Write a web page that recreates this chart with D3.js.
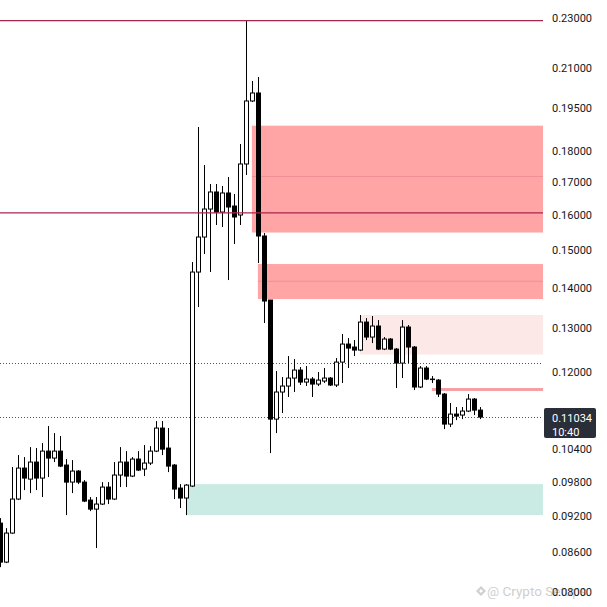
<!DOCTYPE html>
<html>
<head>
<meta charset="utf-8">
<script src="https://cdn.jsdelivr.net/npm/d3@7"></script>
<style>
    html, body { margin: 0; padding: 0; background: #fff; }
    svg { display: block; font-family: Roboto, "Noto Sans", sans-serif; }
</style>
</head>
<body>
<div id="chart"></div>
<script>
// OHLC, one value per candle
const opens = [0.09077, 0.08448, 0.08912, 0.09488, 0.10045, 0.09843, 0.10157, 0.09862, 0.10364, 0.10232,
    0.10364, 0.10101, 0.09789, 0.09990, 0.09789, 0.09470, 0.09314, 0.09401, 0.09700, 0.09488,
    0.09917, 0.10157, 0.09898, 0.10213, 0.10027, 0.10138, 0.10364, 0.10813, 0.10422, 0.10101,
    0.09682, 0.09506, 0.09718, 0.14412, 0.15372, 0.16185, 0.16701, 0.16096, 0.16670, 0.16275,
    0.16008, 0.17585, 0.19748, 0.20041, 0.15401, 0.13688, 0.10993, 0.11555, 0.11683, 0.11856,
    0.12032, 0.11769, 0.11834, 0.11726, 0.11791, 0.11856, 0.11705, 0.12210, 0.12622, 0.12553,
    0.12483, 0.13144, 0.12786, 0.13048, 0.12506, 0.12739, 0.12506, 0.12188, 0.13024, 0.12553,
    0.11662, 0.12077, 0.11834, 0.11812, 0.11512, 0.10893, 0.11095, 0.11075, 0.11157, 0.11406,
    0.11177];
const highs = [0.09161, 0.08994, 0.10064, 0.10289, 0.10251, 0.10441, 0.10422, 0.10518, 0.10853, 0.10714,
    0.10655, 0.10213, 0.10194, 0.10008, 0.09825, 0.09523, 0.09523, 0.09789, 0.09789, 0.10157,
    0.10441, 0.10364, 0.10251, 0.10364, 0.10480, 0.10460, 0.10953, 0.10953, 0.10813, 0.10120,
    0.09753, 0.09753, 0.14680, 0.18824, 0.17553, 0.16949, 0.16949, 0.16886, 0.17168, 0.16640,
    0.18245, 0.22900, 0.20489, 0.20639, 0.15486, 0.13688, 0.12010, 0.11878, 0.12346, 0.12278,
    0.12099, 0.12121, 0.11878, 0.11988, 0.12077, 0.11878, 0.12301, 0.12857, 0.12762, 0.12715,
    0.13315, 0.13241, 0.13290, 0.13192, 0.12786, 0.12762, 0.12529, 0.13192, 0.13072, 0.12576,
    0.12121, 0.12121, 0.11900, 0.11834, 0.11533, 0.11323, 0.11240, 0.11240, 0.11512, 0.11427,
    0.11240];
const lows = [0.08370, 0.08432, 0.08900, 0.09470, 0.09646, 0.09593, 0.09646, 0.09523, 0.09880, 0.10157,
    0.10064, 0.09212, 0.09593, 0.09753, 0.09435, 0.09280, 0.08669, 0.09384, 0.09401, 0.09470,
    0.09700, 0.09700, 0.09880, 0.09990, 0.09898, 0.10101, 0.10345, 0.10289, 0.09971, 0.09488,
    0.09332, 0.09212, 0.09700, 0.13513, 0.14898, 0.14412, 0.15716, 0.15658, 0.14201, 0.15175,
    0.15716, 0.17232, 0.19712, 0.14653, 0.13120, 0.10326, 0.10714, 0.11116, 0.11449, 0.11555,
    0.11705, 0.11683, 0.11449, 0.11683, 0.11748, 0.11683, 0.11662, 0.11748, 0.12077, 0.12346,
    0.12460, 0.12715, 0.12645, 0.12483, 0.12483, 0.12483, 0.11640, 0.11856, 0.12188, 0.11597,
    0.11640, 0.11812, 0.11748, 0.11449, 0.10793, 0.10833, 0.10973, 0.10993, 0.11136, 0.11075,
    0.10993];
const closes = [0.08448, 0.08912, 0.09488, 0.10045, 0.09862, 0.10157, 0.09862, 0.10364, 0.10232, 0.10364,
    0.10082, 0.09789, 0.09990, 0.09789, 0.09453, 0.09314, 0.09401, 0.09700, 0.09488, 0.09917,
    0.10157, 0.09898, 0.10213, 0.10008, 0.10138, 0.10364, 0.10813, 0.10402, 0.10082, 0.09664,
    0.09506, 0.09735, 0.14412, 0.15372, 0.16185, 0.16701, 0.16096, 0.16670, 0.16245, 0.15949,
    0.17585, 0.19748, 0.20041, 0.15401, 0.13663, 0.10993, 0.11555, 0.11683, 0.11856, 0.12032,
    0.11769, 0.11834, 0.11726, 0.11812, 0.11856, 0.11705, 0.12210, 0.12622, 0.12529, 0.12483,
    0.13144, 0.12786, 0.13048, 0.12506, 0.12739, 0.12506, 0.12188, 0.13024, 0.12553, 0.11662,
    0.12077, 0.11834, 0.11823, 0.11512, 0.10893, 0.11095, 0.11054, 0.11157, 0.11406, 0.11177,
    0.11034];

const priceTicks = [0.23, 0.21, 0.195, 0.18, 0.17, 0.16, 0.15, 0.14, 0.13, 0.12, 0.104, 0.098, 0.092, 0.086, 0.08];

// supply / demand boxes: [start candle, top price, bottom price]
const supplyZones = [[41.9, 0.1887, 0.1550], [42.9, 0.14626, 0.13713]];
const weakZone = [59.9, 0.13315, 0.12380];
const demandZone = [31.0, 0.09753, 0.09212];
const levelLine = [71.9, 0.11608];
const hLines = [0.2290, 0.1607];
const dottedLevels = [0.12188];
const lastPrice = 0.11034;
const countdown = "10:40";

const W = 607, H = 607, plotRight = 543;

const candles = opens.map((o, i) => ({i: i, o: o, h: highs[i], l: lows[i], c: closes[i]}));

const svg = d3.select("#chart").append("svg")
    .attr("width", W)
    .attr("height", H);

svg.append("rect").attr("width", W).attr("height", H).attr("fill", "#ffffff");

let x = d3.scaleLinear().domain([0, 80]).range([0.5, 480.5]);
let y = d3.scaleLog().domain([0.08, 0.23]).range([591.7, 18.2]);

// watermark (sits behind everything)
let wm = svg.append("g").attr("fill", "#cfcfcf");
wm.append("path")
    .attr("d", "M481,586 l5,5 l-5,5 l-5,-5 Z M481,589 l2,2 l-2,2 l-2,-2 Z")
    .attr("fill-rule", "evenodd");
wm.append("text")
    .attr("x", 487).attr("y", 596)
    .attr("font-size", 13.5)
    .text("@ Crypto Setups");

// zones
let zones = svg.append("g");

supplyZones.forEach(z => {
    zones.append("rect")
        .attr("x", x(z[0])).attr("y", y(z[1]))
        .attr("width", plotRight - x(z[0]))
        .attr("height", y(z[2]) - y(z[1]))
        .attr("fill", "#ffa5a5");
    zones.append("line")
        .attr("x1", x(z[0])).attr("x2", plotRight)
        .attr("y1", y((z[1] + z[2]) / 2)).attr("y2", y((z[1] + z[2]) / 2))
        .attr("stroke", "#f08f96").attr("stroke-width", 1);
});

zones.append("rect")
    .attr("x", x(weakZone[0])).attr("y", y(weakZone[1]))
    .attr("width", plotRight - x(weakZone[0]))
    .attr("height", y(weakZone[2]) - y(weakZone[1]))
    .attr("fill", "#fde8e8");

zones.append("rect")
    .attr("x", x(demandZone[0])).attr("y", y(demandZone[1]))
    .attr("width", plotRight - x(demandZone[0]))
    .attr("height", y(demandZone[2]) - y(demandZone[1]))
    .attr("fill", "#c9ebe3");

zones.append("line")
    .attr("x1", x(levelLine[0])).attr("x2", plotRight)
    .attr("y1", y(levelLine[1])).attr("y2", y(levelLine[1]))
    .attr("stroke", "#f4a0a4").attr("stroke-width", 3);

// dotted lines
dottedLevels.concat([lastPrice]).forEach(p => {
    svg.append("line")
        .attr("x1", 0).attr("x2", plotRight)
        .attr("y1", Math.round(y(p)) + 0.5).attr("y2", Math.round(y(p)) + 0.5)
        .attr("stroke", "#555").attr("stroke-width", 1)
        .attr("stroke-dasharray", "1,2");
});

// candles
let cg = svg.append("g").attr("class", "candles");

cg.selectAll(".wick")
    .data(candles)
    .enter().append("line")
    .attr("class", "wick")
    .attr("x1", d => x(d.i)).attr("x2", d => x(d.i))
    .attr("y1", d => y(d.h)).attr("y2", d => y(d.l))
    .attr("stroke", "#000").attr("stroke-width", 1);

cg.selectAll(".body")
    .data(candles)
    .enter().append("rect")
    .attr("class", "body")
    .attr("x", d => x(d.i) - 2)
    .attr("width", 4)
    .attr("y", d => y(Math.max(d.o, d.c)))
    .attr("height", d => Math.max(0.5, y(Math.min(d.o, d.c)) - y(Math.max(d.o, d.c))))
    .attr("fill", d => d.c >= d.o ? "#ffffff" : "#000000")
    .attr("stroke", "#000").attr("stroke-width", 1);

// drawn horizontal levels
hLines.forEach(p => {
    svg.append("line")
        .attr("x1", 0).attr("x2", plotRight)
        .attr("y1", y(p)).attr("y2", y(p))
        .attr("stroke", "#a8264c").attr("stroke-width", 1.2);
});

// price axis
let axis = d3.axisRight(y)
    .tickValues(priceTicks)
    .tickFormat(d => d.toFixed(5))
    .tickSize(0)
    .tickPadding(9);

let ag = svg.append("g")
    .attr("transform", `translate(${plotRight}, 0)`)
    .call(axis);
ag.select(".domain").remove();
ag.selectAll("text")
    .attr("font-size", 11)
    .attr("font-family", "Roboto, 'Noto Sans', sans-serif")
    .attr("fill", "#131722");

// last price badge
let badge = svg.append("g");
badge.append("rect")
    .attr("x", plotRight + 1).attr("y", y(lastPrice) - 9)
    .attr("width", 52).attr("height", 30)
    .attr("rx", 2)
    .attr("fill", "#2a2e39");
badge.append("text")
    .attr("x", 552).attr("y", y(lastPrice) + 4.5)
    .attr("font-size", 11).attr("fill", "#ffffff")
    .text(lastPrice.toFixed(5));
badge.append("text")
    .attr("x", 552).attr("y", y(lastPrice) + 18.5)
    .attr("font-size", 11).attr("fill", "#ffffff")
    .text(countdown);
</script>
</body>
</html>
